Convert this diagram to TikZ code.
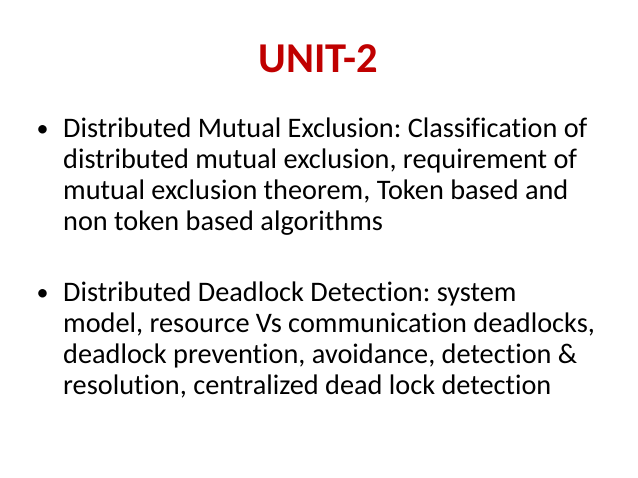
\documentclass[tikz,border=0pt]{standalone}
\usepackage{fontspec}
\setmainfont[Ligatures={NoCommon}]{Carlito}
\definecolor{titlered}{HTML}{C00000}
\begin{document}
\frenchspacing
\begin{tikzpicture}[x=1pt,y=1pt,
  line/.style={anchor=base west,inner sep=0pt,font=\fontsize{28.3}{31}\selectfont},
  bul/.style={anchor=base,inner sep=0pt,font=\fontsize{24}{31}\selectfont},
  title/.style={anchor=base,inner sep=0pt,text=titlered,font=\fontsize{42.5}{48}\selectfont\bfseries}]
\useasboundingbox[fill=white] (0,0) rectangle (638,-478);
\node[title] (t) at (318.5,-72.7) {UNIT-2};
\node[bul] (b1) at (42.7,-136.3) {•};
\node[line] (a1) at (63,-137.3) {Distributed Mutual Exclusion: Classification of};
\node[line] (a2) at (63,-168.3) {distributed mutual exclusion, requirement of};
\node[line] (a3) at (63,-199.3) {mutual exclusion theorem, Token based and};
\node[line] (a4) at (63,-230.3) {non token based algorithms};
\node[bul] (b2) at (42.7,-301) {•};
\node[line] (c1) at (63,-302) {Distributed Deadlock Detection: system};
\node[line] (c2) at (63,-333) {model, resource Vs communication deadlocks,};
\node[line] (c3) at (63,-364) {deadlock prevention, avoidance, detection \&};
\node[line] (c4) at (63,-395) {resolution, centralized dead lock detection};
\end{tikzpicture}
\end{document}
